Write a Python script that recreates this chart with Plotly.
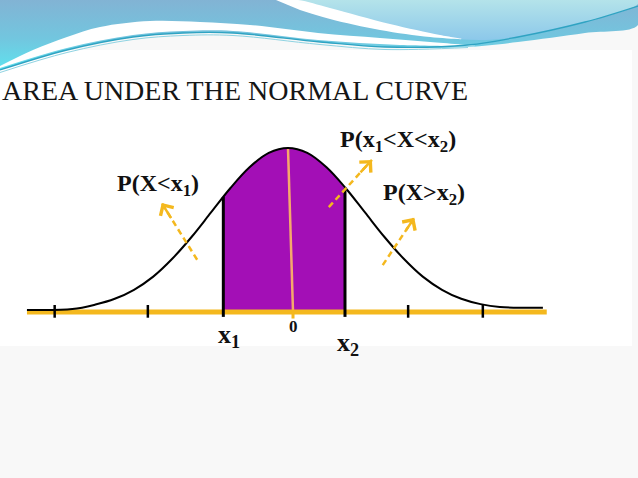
import plotly.graph_objects as go

# ------------------------------------------------------------
# Normal curve (z units, density height)
# ------------------------------------------------------------
curve_z = [-3.39, -2.8, -2.5, -2.25, -2.0, -1.75, -1.5, -1.25, -1.0, -0.75, -0.5, -0.25,
           0.0, 0.25, 0.5, 0.75, 1.0, 1.25, 1.5, 1.75, 2.0, 2.25, 2.5, 2.75, 3.31]
curve_pdf = [0.005, 0.007, 0.018, 0.032, 0.054, 0.086, 0.130, 0.183, 0.242, 0.301, 0.352, 0.387,
             0.399, 0.387, 0.352, 0.301, 0.242, 0.183, 0.130, 0.086, 0.054, 0.032, 0.019, 0.012, 0.010]

x1_z, x1_h = -0.84, 0.280
x2_z, x2_h = 0.74, 0.300
zero_top_z, zero_bottom_z = 0.0, 0.065

axis_z = [-3.39, 3.36]
tick_z = [-3.03, -1.82, 1.56, 2.53]

label_names = ["P(X<x<sub>1</sub>)", "P(x<sub>1</sub><X<x<sub>2</sub>)", "P(X>x<sub>2</sub>)"]
label_z = [-1.69, 1.43, 1.77]
label_y = [0.309, 0.416, 0.287]

arrow_tail_z = [-1.18, 0.53, 1.23]
arrow_tail_y = [0.127, 0.255, 0.114]
arrow_head_z = [-1.64, 1.09, 1.64]
arrow_head_y = [0.265, 0.370, 0.229]

axis_label_text = ["x<sub>1</sub>", "0", "x<sub>2</sub>"]
axis_label_z = [-0.77, 0.065, 0.78]
axis_label_y = [-0.058, -0.036, -0.078]
axis_label_size = [26, 17, 26]

# ------------------------------------------------------------
# Slide decoration (pixel units on an overlay axis)
# ------------------------------------------------------------
base_x = [0, 638, 638, 585, 518, 468, 385, 320, 233, 183, 133, 67, 0]
base_y = [0, 0, 25, 33, 42, 47, 47, 42, 33, 33, 37, 50, 70]
light_x = [290, 638, 638, 585, 535, 485, 440, 390, 330]
light_y = [0, 0, 4, 22, 34, 40, 37, 28, 12]
stripe_x = [276, 298, 330, 390, 440, 462, 430, 380, 330, 300]
stripe_y = [0, 0, 8, 24, 35, 39, 37, 30, 19, 10]
swoosh_x = [0, 33, 67, 100, 150, 200, 250, 318, 380, 430, 475, 400, 318, 233, 183, 133, 67, 0]
swoosh_y = [66, 50, 37, 27, 21, 22, 25, 33, 38, 42, 46, 45, 40, 31, 31, 35, 48, 68]
thin_x = [0, 67, 133, 183, 233, 320, 385, 468, 518, 585, 638]
thin_y = [70, 50, 37, 33, 33, 42, 47, 45, 37, 22, 6]

YELLOW = "#f4b81e"
PURPLE = "#a30fb6"
SERIF = "Liberation Serif, DejaVu Serif, serif"

fig = go.Figure()

# --- decoration ---
fig.add_trace(go.Scatter(x=base_x, y=base_y, xaxis="x2", yaxis="y2", mode="lines",
                         line=dict(width=0, shape="spline"), fill="toself",
                         fillgradient=dict(type="vertical", start=0, stop=70,
                                           colorscale=[[0, "#82b3d4"], [0.55, "#72c6df"], [1, "#5fe2ee"]]),
                         hoverinfo="skip"))
fig.add_trace(go.Scatter(x=light_x, y=light_y, xaxis="x2", yaxis="y2", mode="lines",
                         line=dict(width=0, shape="spline"), fill="toself",
                         fillgradient=dict(type="vertical", start=0, stop=40,
                                           colorscale=[[0, "#b4e3ea"], [1, "#8cc8ea"]]),
                         hoverinfo="skip"))
fig.add_trace(go.Scatter(x=stripe_x, y=stripe_y, xaxis="x2", yaxis="y2", mode="lines",
                         line=dict(width=0, shape="spline"), fill="toself", fillcolor="white",
                         hoverinfo="skip"))
fig.add_trace(go.Scatter(x=swoosh_x, y=swoosh_y, xaxis="x2", yaxis="y2", mode="lines",
                         line=dict(width=0, shape="spline"), fill="toself", fillcolor="white",
                         hoverinfo="skip"))
fig.add_trace(go.Scatter(x=thin_x, y=thin_y, xaxis="x2", yaxis="y2", mode="lines",
                         line=dict(width=1.3, color="#2fa3c2", shape="spline"), hoverinfo="skip"))
fig.add_trace(go.Scatter(x=thin_x[:8], y=[v + 2.5 for v in thin_y[:8]], xaxis="x2", yaxis="y2",
                         mode="lines", line=dict(width=1, color="#8fd3e2", shape="spline"),
                         hoverinfo="skip"))

# --- shaded area between x1 and x2 ---
inner = [(z, p) for z, p in zip(curve_z, curve_pdf) if x1_z < z < x2_z]
fill_z = [x1_z] + [z for z, _ in inner] + [x2_z]
fill_y = [x1_h] + [p for _, p in inner] + [x2_h]
fig.add_trace(go.Scatter(x=fill_z, y=fill_y, mode="lines", fill="tozeroy", fillcolor=PURPLE,
                         line=dict(width=0, shape="spline"), hoverinfo="skip"))

# centre line
fig.add_trace(go.Scatter(x=[zero_top_z, zero_bottom_z], y=[max(curve_pdf), 0], mode="lines",
                         line=dict(color="#f5a96b", width=2.5), hoverinfo="skip"))

# horizontal axis
fig.add_trace(go.Scatter(x=axis_z, y=[0, 0], mode="lines",
                         line=dict(color=YELLOW, width=5), hoverinfo="skip"))
fig.add_trace(go.Scatter(x=[zero_bottom_z, zero_bottom_z], y=[0, -0.016], mode="lines",
                         line=dict(color=YELLOW, width=3), hoverinfo="skip"))

# curve
fig.add_trace(go.Scatter(x=curve_z, y=curve_pdf, mode="lines",
                         line=dict(color="black", width=2, shape="spline"), hoverinfo="skip"))

# x1 / x2 boundaries
fig.add_trace(go.Scatter(x=[x1_z, x1_z, None, x2_z, x2_z], y=[x1_h, -0.012, None, x2_h, -0.012],
                         mode="lines", line=dict(color="black", width=3), hoverinfo="skip"))

# ticks
tx, ty = [], []
for t in tick_z:
    tx += [t, t, None]
    ty += [0.017, -0.014, None]
fig.add_trace(go.Scatter(x=tx, y=ty, mode="lines", line=dict(color="black", width=2.5),
                         hoverinfo="skip"))

# dashed arrows
for tz, tyy, hz, hy in zip(arrow_tail_z, arrow_tail_y, arrow_head_z, arrow_head_y):
    fig.add_trace(go.Scatter(x=[tz, hz], y=[tyy, hy], mode="lines",
                             line=dict(color=YELLOW, width=2.5, dash="6px,4px"), hoverinfo="skip"))
    fig.add_annotation(x=hz, y=hy, ax=hz - 0.3 * (hz - tz), ay=hy - 0.3 * (hy - tyy),
                       xref="x", yref="y", axref="x", ayref="y", text=" ", showarrow=True,
                       arrowhead=4, arrowsize=1.2, arrowwidth=2.5, arrowcolor=YELLOW,
                       font=dict(size=1))

# labels
for txt, lz, ly in zip(label_names, label_z, label_y):
    fig.add_annotation(x=lz, y=ly, text=f"<b>{txt}</b>", showarrow=False,
                       font=dict(family=SERIF, size=24, color="#111111"))
for txt, lz, ly, sz in zip(axis_label_text, axis_label_z, axis_label_y, axis_label_size):
    fig.add_annotation(x=lz, y=ly, text=f"<b>{txt}</b>", showarrow=False,
                       font=dict(family=SERIF, size=sz, color="#111111"))

# title
fig.add_annotation(x=0, y=1 - 91 / 478, xref="paper", yref="paper", xanchor="left", yanchor="middle",
                   text="AREA UNDER THE NORMAL CURVE", showarrow=False,
                   font=dict(family=SERIF, size=28, color="#151515"))

fig.add_shape(type="rect", xref="paper", yref="paper", x0=0, x1=632 / 638,
              y0=1 - 346 / 478, y1=1 - 50 / 478, fillcolor="white", line=dict(width=0), layer="below")

fig.update_layout(
    width=638, height=478,
    margin=dict(l=0, r=0, t=0, b=0),
    paper_bgcolor="#f8f8f8",
    plot_bgcolor="rgba(0,0,0,0)",
    showlegend=False,
    xaxis=dict(range=[-3.740, 4.545], visible=False, fixedrange=True),
    yaxis=dict(range=[-0.404, 0.759], visible=False, fixedrange=True),
    xaxis2=dict(range=[0, 638], visible=False, overlaying="x", anchor="y2", fixedrange=True),
    yaxis2=dict(range=[478, 0], visible=False, overlaying="y", anchor="x2", fixedrange=True),
)

fig.write_html("out.html", config={"displayModeBar": False},
               post_script="document.body.style.margin='0';document.body.style.overflow='hidden';")
